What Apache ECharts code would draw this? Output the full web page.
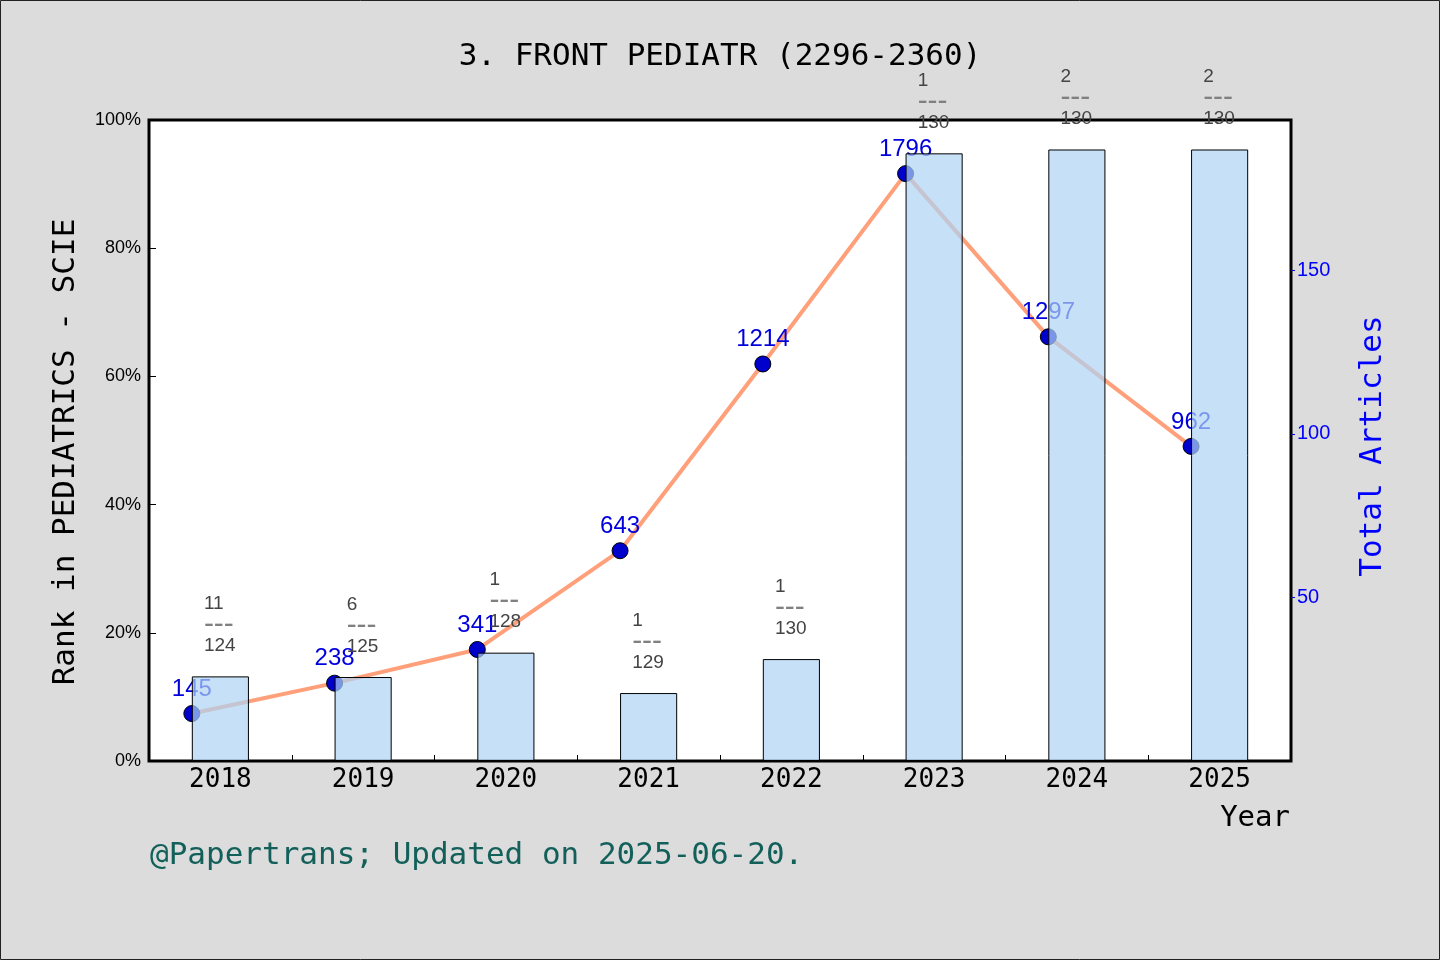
<!DOCTYPE html>
<html>
<head>
<meta charset="utf-8">
<title>FRONT PEDIATR</title>
<script src="https://cdn.jsdelivr.net/npm/echarts@6/dist/echarts.min.js"></script>
<style>
  html, body { margin: 0; padding: 0; background: #dcdcdc; }
  #main { width: 1440px; height: 960px; }
</style>
</head>
<body>
<div id="main"></div>
<script>
// data
const years = ['2018', '2019', '2020', '2021', '2022', '2023', '2024', '2025'];
const rankPercent = [13.2, 13.1, 16.9, 10.6, 15.9, 94.8, 95.4, 95.4];
const rankPos = [11, 6, 1, 1, 1, 1, 2, 2];
const rankTotal = [124, 125, 128, 129, 130, 130, 130, 130];
const totalArticles = [145, 238, 341, 643, 1214, 1796, 1297, 962];
const leftTicks = [0, 20, 40, 60, 80, 100];

const mono = '"DejaVu Sans Mono", monospace';
const sans = '"Liberation Sans", Arial, sans-serif';

const chart = echarts.init(document.getElementById('main'));

// line plotted as articles/10 on the right axis, a bit left of the bar centre
const lineData = totalArticles.map((v, i) => [i - 0.2, v / 10]);

const options = {
  animation: false,
  backgroundColor: '#dcdcdc',
  grid: {
    left: 149, right: 149, top: 120, bottom: 199,
    show: true, backgroundColor: '#fff',
    borderColor: '#000', borderWidth: 3
  },
  xAxis: [
    {
      type: 'category',
      data: years,
      axisLine: { show: false, onZero: false },
      axisTick: { show: true, inside: true, length: 6, lineStyle: { color: '#000', width: 1 } },
      axisLabel: { color: '#000', fontFamily: mono, fontSize: 26, margin: 6 },
      splitLine: { show: false }
    },
    {
      type: 'value', min: -0.5, max: 7.5, show: false
    }
  ],
  yAxis: [
    {
      type: 'value',
      min: leftTicks[0], max: leftTicks[leftTicks.length - 1], interval: 20,
      axisLine: { show: false, onZero: false },
      axisTick: { show: true, inside: true, length: 7, lineStyle: { color: '#000' } },
      axisLabel: { color: '#000', fontFamily: sans, fontSize: 18, margin: 8, formatter: '{value}%' },
      splitLine: { show: false }
    },
    {
      type: 'value',
      min: 0, max: 196, interval: 50,
      position: 'right',
      axisLine: { show: false, onZero: false },
      axisTick: { show: true, length: 4, lineStyle: { color: '#0000ff' } },
      axisLabel: { color: '#0000ff', fontFamily: sans, fontSize: 20, margin: 6, showMinLabel: false, showMaxLabel: false },
      splitLine: { show: false }
    }
  ],
  series: [
    {
      type: 'line',
      xAxisIndex: 1,
      yAxisIndex: 1,
      z: 2,
      data: lineData,
      symbol: 'circle',
      symbolSize: 16,
      itemStyle: { color: '#0000cd', borderColor: '#000', borderWidth: 1 },
      lineStyle: { color: '#ffa07a', width: 4 },
      label: {
        show: true, position: 'top', distance: 4,
        color: '#0000dd', fontFamily: sans, fontSize: 24,
        formatter: p => totalArticles[p.dataIndex]
      }
    },
    {
      type: 'bar',
      xAxisIndex: 0,
      yAxisIndex: 0,
      z: 3,
      barWidth: '40%',
      data: rankPercent,
      itemStyle: { color: 'rgba(173,211,244,0.71)', borderColor: '#000', borderWidth: 1 },
      label: {
        show: true, position: 'top', distance: 20,
        formatter: p => '{a|' + rankPos[p.dataIndex] + '}\n{d|---}\n{a|' + rankTotal[p.dataIndex] + '}',
        rich: {
          a: { width: 33, align: 'left', color: '#444', fontFamily: sans, fontSize: 19, lineHeight: 21 },
          d: { width: 33, align: 'left', color: '#808080', fontFamily: sans, fontSize: 30, lineHeight: 21 }
        }
      }
    }
  ],
  graphic: [
    {
      type: 'rect', silent: true, z: 100,
      shape: { x: 0.5, y: 0.5, width: 1439, height: 959 },
      style: { fill: 'none', stroke: '#222', lineWidth: 1 }
    },
    {
      type: 'text', x: 720, y: 57,
      style: { text: '3. FRONT PEDIATR (2296-2360)', font: '31px ' + mono, fill: '#000', textAlign: 'center', textVerticalAlign: 'middle' }
    },
    {
      type: 'text', x: 66, y: 452, rotation: Math.PI / 2,
      style: { text: 'Rank in PEDIATRICS - SCIE', font: '31px ' + mono, fill: '#000', textAlign: 'center', textVerticalAlign: 'middle' }
    },
    {
      type: 'text', x: 1373, y: 446, rotation: Math.PI / 2,
      style: { text: 'Total Articles', font: '31px ' + mono, fill: '#0000ff', textAlign: 'center', textVerticalAlign: 'middle' }
    },
    {
      type: 'text', x: 1290, y: 818,
      style: { text: 'Year', font: '29px ' + mono, fill: '#000', textAlign: 'right', textVerticalAlign: 'middle' }
    },
    {
      type: 'text', x: 150, y: 856,
      style: { text: '@Papertrans; Updated on 2025-06-20.', font: '31px ' + mono, fill: '#13605a', textAlign: 'left', textVerticalAlign: 'middle' }
    }
  ]
};

chart.setOption(options);
</script>
</body>
</html>
